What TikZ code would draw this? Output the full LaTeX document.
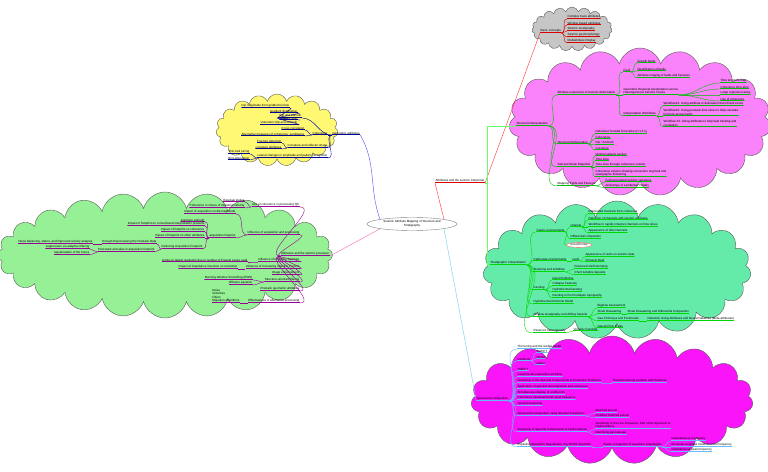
\documentclass[tikz,border=0pt]{standalone}
\usepackage{fontspec}
\setmainfont{Liberation Sans}
\usetikzlibrary{shapes.symbols,shapes.geometric}
\tikzset{
 leaf/.style={anchor=south west,inner sep=0.4pt,font=\fontsize{3}{3.4}\selectfont,align=left,
   path picture={\draw[line width=0.9pt,ul] (path picture bounding box.south west)--(path picture bounding box.south east);}},
 leafl/.style={leaf,anchor=south east},
 conn/.style={ul,line width=0.4pt},
 cl/.style={cloud,cloud puffs=19,cloud ignores aspect,draw=gray!70!black,line width=0.4pt,inner sep=0pt},
}
\newcommand\lfR[5]{\node[leaf] (#1) at (#2,#3) {#4}; \draw[conn] (#5.south east) to[out=0,in=180] (#1.south west);}
\newcommand\lfL[5]{\node[leafl] (#1) at (#2,#3) {#4}; \draw[conn] (#5.south west) to[out=180,in=0] (#1.south east);}
\begin{document}
\begin{tikzpicture}[x=1pt,y=-1pt]
\useasboundingbox[fill=white] (0,0) rectangle (768,471);
% clouds
\node[cl,fill=yellow!55,minimum width=122,minimum height=72] (cy) at (277,130) {};
\node[cl,fill=gray!45,minimum width=80,minimum height=44] (cg) at (572,29) {};
\node[cl,fill={rgb,255:red,250;green,130;blue,250},minimum width=262,minimum height=148] (cp) at (640,122) {};
\node[cl,fill={rgb,255:red,100;green,235;blue,170},minimum width=268,minimum height=138] (ct) at (617,270) {};
\node[cl,fill={rgb,255:red,250;green,20;blue,250},minimum width=282,minimum height=128] (cm) at (612,400) {};
\node[cl,fill={rgb,255:red,150;green,240;blue,150},cloud puffs=24,minimum width=335,minimum height=126] (cgl) at (165,255) {};
% centre
\node[ellipse,draw=gray,fill=white,inner sep=0.5pt,font=\fontsize{3}{3.6}\selectfont,align=center,minimum width=90,minimum height=13] (c) at (412,224) {Seismic Attribute Mapping of Structure and\\Stratigraphy};
% ---------- yellow: geometric attributes
\colorlet{ul}{blue!60!black}
\node[leaf] (ya) at (332,135) {Geometric attributes};
\draw[blue!70,line width=0.4pt] (c.north west) to[out=110,in=-60] (ya.south east);
\lfL{y1}{302}{118}{Dip and azimuth}{ya}
\lfL{y11}{290}{108}{Dip magnitude from gridded horizon}{y1}
\lfL{y12}{298}{113}{Gradient illumination}{y1}
\lfL{y13}{298}{120}{Shaded relief}{y1}
\lfL{y14}{298}{125}{Volumetric Dip and Azimuth}{y1}
\lfL{y2}{328}{135}{Coherence}{ya}
\lfL{y21}{305}{130}{Cross correlation}{y2}
\lfL{y22}{305}{136}{Alternative measures of coherence: semblance}{y2}
\lfL{y3}{328}{148}{Curvature and reflector shape}{ya}
\lfL{y31}{282}{143}{Fracture detection}{y3}
\lfL{y32}{282}{149}{curvature attributes}{y3}
\lfL{y4}{328}{158}{Lateral changes in amplitude and pattern recognition}{ya}
\lfL{y41}{250}{154}{Thin-bed tuning}{y4}
\lfL{y42}{250}{160}{Bed attenuation}{y4}
% ---------- gray: basic concepts
\colorlet{ul}{red!85!black}
\node[leaf] (interp) at (435,183) {Attributes and the seismic interpreter};
\draw[red!80,line width=0.4pt] (c.north east) -- (interp.south west);
\node[leaf] (g0) at (540,33) {Basic concepts};
\draw[red!80,line width=0.4pt] (interp.south east) -- (g0.south west);
\lfR{g1}{567}{19}{Complex trace attributes}{g0}
\lfR{g2}{567}{25}{Window based attributes}{g0}
\lfR{g3}{567}{31}{Seismic stratigraphy}{g0}
\lfR{g4}{567}{37}{Seismic geomorphology}{g0}
\lfR{g5}{567}{43}{Multiattribute Display}{g0}
% ---------- pink: structural
\colorlet{ul}{green!75!black}
\node[leaf] (s0) at (516,126) {Structural interpretation};
\draw[green!60,line width=0.4pt] (interp.south east) -| (487,126) -- (s0.south west);
\lfR{s1}{557}{95}{Attribute expression of tectonic deformation}{s0}
\lfR{s11}{623}{72}{Fault}{s1}
\lfR{s111}{637}{63}{Growth faults}{s11}
\lfR{s112}{637}{71}{Identification of faults}{s11}
\lfR{s113}{637}{78}{Attribute imaging of faults and fractures}{s11}
\lfR{s12}{623}{95}{Geometric Regional interpretation across\\Heterogeneous Seismic Facies}{s1}
\lfR{s121}{720}{83}{Time structure map}{s12}
\lfR{s122}{720}{89}{Coherence time-slice}{s12}
\lfR{s123}{720}{95}{Large regional overlay}{s12}
\lfR{s124}{720}{101}{Use of coherence}{s12}
\lfR{s13}{623}{116}{Interpretation Workflows}{s1}
\lfR{s131}{663}{106}{Workflow\#1: Using attribute to delineate trend of fault zones}{s13}
\lfR{s132}{663}{116}{Workflow\#2: Using prestack time slices to help correlate\\horizons across faults}{s13}
\lfR{s133}{663}{127}{Workflow \#3: Using attributes to help fault tracking and\\correlation}{s13}
\lfR{s2}{557}{144}{Structural Deformation}{s0}
\lfR{s21}{595}{134}{Deformed Toroidal Time Slice (t=1.5 s)}{s2}
\lfR{s22}{595}{139}{Coherence}{s2}
\lfR{s23}{595}{145}{Dip / Azimuth}{s2}
\lfR{s24}{595}{150}{Curvature}{s2}
\lfR{s3}{557}{167}{Salt and Shale Diapirism}{s0}
\lfR{s31}{595}{156}{Vertical seismic section}{s3}
\lfR{s32}{595}{161}{Time slice}{s3}
\lfR{s33}{595}{167}{Time slice through coherence volume}{s3}
\lfR{s34}{595}{177}{Coherence volume showing connection ring fault and\\stratigraphic thickening}{s3}
\lfR{s4}{557}{186}{Mapping Folds and Flexures}{s0}
\lfR{s41}{605}{182}{Fold-associated seismic variations}{s4}
\lfR{s42}{605}{188}{Anisotropy of Lamberton models}{s4}
% ---------- teal: stratigraphic
\colorlet{ul}{green!85!black}
\node[leaf] (t0) at (490,265) {Stratigraphic Interpretation};
\draw[green!60,line width=0.4pt] (487,183) -- (487,265) -- (t0.south west);
\lfR{t1}{536}{232}{Clastic environments}{t0}
\lfR{t11}{570}{227}{channel}{t1}
\lfR{t111}{588}{214}{Interpreted channels from coherence}{t11}
\lfR{t112}{588}{220}{Detection of channels with seismic attributes}{t11}
\lfR{t113}{588}{227}{Workflow to rapidly interpret channels on time slices}{t11}
\lfR{t114}{588}{233}{Appearance of tidal channels}{t11}
\lfR{t12}{570}{239}{Differential compaction}{t1}
\node[ellipse,draw=red!60,fill=white,inner sep=0.3pt,font=\fontsize{3}{3.4}\selectfont] (t13) at (579,245) {unconformity};
\draw[conn] (t1.south east) to[out=0,in=180] (t13.west);
\lfR{t2}{533}{261}{Carbonate environments}{t0}
\lfR{t21}{572}{261}{reefs}{t2}
\lfR{t211}{585}{257}{Appearance of reefs on seismic data}{t21}
\lfR{t212}{585}{262}{Pinnacle Reef}{t21}
\lfR{t3}{533}{272}{Slumping and turbidites}{t0}
\lfR{t31}{574}{269}{Fractured shelf slumping}{t3}
\lfR{t32}{574}{275}{Chert turbidite deposits}{t3}
\lfR{t4}{533}{290}{Karsting}{t0}
\lfR{t41}{552}{280}{Karst Sinkholes}{t4}
\lfR{t42}{552}{286}{Collapse Features}{t4}
\lfR{t43}{552}{292}{Hydrothermal karsting}{t4}
\lfR{t44}{552}{298}{Karsting in front Collapse topography}{t4}
\lfR{t5}{533}{304}{Hydrothermal Dolomite Model}{t0}
\lfR{t6}{533}{317}{Shallow stratigraphy and drilling hazards}{t0}
\lfR{t61}{597}{308}{Bigelow Assessment}{t6}
\lfR{t62}{597}{314}{Shale Dewatering}{t6}
\lfR{t621}{627}{314}{Shale Dewatering and Differential Compaction}{t62}
\lfR{t63}{597}{321}{Gas Chimneys and Pockmarks}{t6}
\lfR{t631}{647}{321}{Detection Using Attributes and Neural Networks (Meta-attributes)}{t63}
\lfR{t64}{597}{328}{Glacial Flow Marks}{t6}
\lfR{t7}{533}{333}{Reservoir heterogeneity}{t0}
\lfR{t71}{573}{331}{Volcanic Conduits}{t7}
% ---------- magenta: spectral
\colorlet{ul}{blue!45!cyan!60}
\node[leaf] (m0) at (476,401) {Spectral Decomposition};
\draw[cyan!60,line width=0.4pt] (c.south east) to (m0.west);
\lfR{m1}{517}{349}{The tuning and the wedge model}{m0}
\lfR{m2}{517}{361}{transform}{m0}
\lfR{m21}{536}{353}{SWDFT}{m2}
\lfR{m22}{536}{359}{Morlet}{m2}
\lfR{m23}{536}{365}{Gabor}{m2}
\lfR{m3}{517}{371}{SWDFT}{m0}
\lfR{m4}{517}{377}{wavelets-decomposition workflow}{m0}
\lfR{m5}{517}{383}{Sensitivity of the Spectral Components to Formation Thickness}{m0}
\lfR{m51}{612}{383}{Thickness/tuning variation with thickness}{m5}
\lfR{m6}{517}{389}{Application of spectral decomposition and coherence}{m0}
\lfR{m7}{517}{395}{Simultaneous display of coefficients}{m0}
\lfR{m8}{517}{400}{Coherence interleaved with peak frequency}{m0}
\lfR{m9}{517}{406}{Spectral balancing}{m0}
\lfR{m10}{517}{416}{Spectral Decomposition using Wavelet Transforms}{m0}
\lfR{m101}{595}{413}{Matched pursuit}{m10}
\lfR{m102}{595}{418}{modified matched pursuit}{m10}
\lfR{m11}{517}{432}{Sensitivity of Spectral Components to Hydrocarbons}{m0}
\lfR{m111}{595}{429}{Sensitivity of the Low-Frequency Part of the Spectrum to\\Hydrocarbons}{m11}
\lfR{m112}{595}{435}{identifying gas leakage}{m11}
\lfR{m12}{517}{447}{Exploiting Waveform Regularities: the SPICE Algorithm}{m0}
\lfR{m121}{603}{447}{Earlier recognition of waveform singularities}{m12}
\lfR{m1211}{671}{441}{Instantaneous Frequency}{m121}
\lfR{m1212}{671}{447}{Envelope-weighted Instantaneous Frequency}{m121}
\lfR{m1213}{671}{452}{Instantaneous peak frequency}{m121}
% ---------- left green: processor
\colorlet{ul}{violet!80!magenta}
\node[leafl] (p0) at (330,256) {Attributes and the seismic processor};
\draw[magenta!60,line width=0.4pt] (c.south west) -- (p0.south east);
\lfL{p1}{300}{207}{Use of coherence in processing QC}{p0}
\lfL{p11}{245}{202}{Residual statics}{p1}
\lfL{p12}{245}{208}{Coherence in choice of migration velocity}{p1}
\lfL{p2}{300}{235}{Influence of acquisition and processing}{p0}
\lfL{p21}{236}{214}{Impact of acquisition on dip magnitude}{p2}
\lfL{p22}{236}{238}{acquisition footprint}{p2}
\lfL{p221}{205}{222}{Common azimuth}{p22}
\lfL{p222}{205}{226}{Impact of footprint on conventional interpretation products}{p22}
\lfL{p223}{205}{232}{Impact of footprint on coherence}{p22}
\lfL{p224}{205}{238}{Impact of footprint on other attributes}{p22}
\lfL{p225}{203}{249}{Reducing Acquisition Footprint}{p22}
\lfL{p2251}{157}{244}{through Reprocessing the Prestack Data}{p225}
\lfL{p22511}{93}{244}{Noise balancing, statics, and improved velocity analysis}{p2251}
\lfL{p2252}{155}{252}{Post stack and alias in acquisition footprint}{p225}
\lfL{p22521}{90}{249}{suppression via adaptive filtering}{p2252}
\lfL{p22522}{90}{255}{regularization of the traces}{p2252}
\lfL{p3}{300}{262}{Influence of Migration Aperture}{p0}
\lfL{p31}{248}{262}{Limits on lateral resolution due to number of Fresnel zones used}{p3}
\lfL{p4}{300}{269}{Influence of Increasing Spectral Content}{p0}
\lfL{p41}{238}{269}{Impact of impedance inversion on resolution}{p4}
\lfL{p5}{300}{275}{Image enhancement}{p0}
\lfL{p6}{300}{282}{Structure-oriented filtering}{p0}
\lfL{p61}{253}{280}{Running Window Smoothing (RWS)}{p6}
\lfL{p62}{253}{285}{diffusion equation}{p6}
\lfL{p7}{300}{291}{Prestack geometric attributes}{p0}
\lfL{p8}{300}{303}{Effectiveness of alternative processing}{p0}
\lfL{p81}{240}{303}{Noise\\Velocities\\Filters\\Migration algorithms}{p8}
\end{tikzpicture}
\end{document}
